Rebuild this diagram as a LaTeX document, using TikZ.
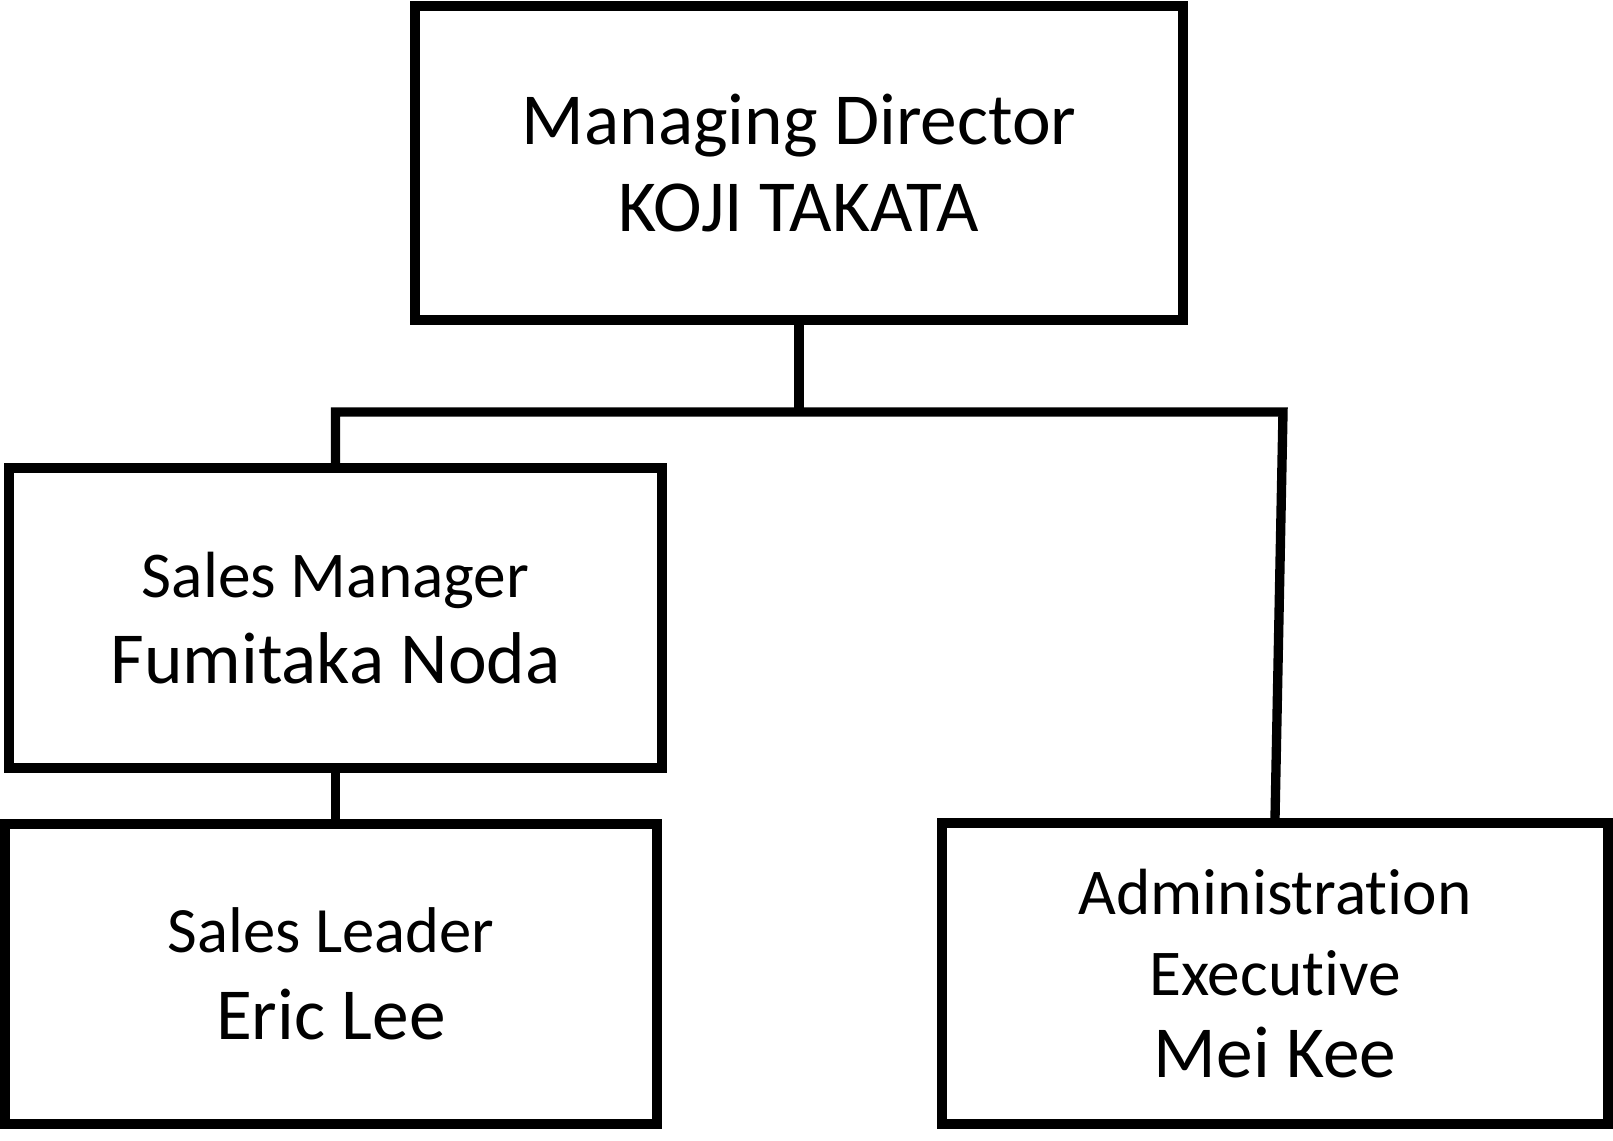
\documentclass[tikz,border=0pt]{standalone}
\usepackage{fontspec}
\setmainfont[Ligatures=NoCommon]{Carlito}
\tikzstyle{post} = [draw, line width=7pt, inner sep=0pt, align=center]
\tikzstyle{link} = [line width=7pt]
\newcommand{\postname}[1]{{\fontsize{55}{64}\selectfont #1}}

\begin{document}
\begin{tikzpicture}[x=0.75pt, y=-0.75pt]
\useasboundingbox (0,0) rectangle (1613,1140);

% Nodes
\node (md) [post, minimum width=576pt, minimum height=235.5pt,
  font=\fontsize{55}{65}\selectfont] at (799,163) {Managing Director\\KOJI TAKATA};
\node (sm) [post, minimum width=489.75pt, minimum height=225pt,
  font=\fontsize{49}{64}\selectfont] at (335.5,618) {Sales Manager\\\postname{Fumitaka Noda}};
\node (sl) [post, minimum width=489pt, minimum height=225pt,
  font=\fontsize{48.5}{65}\selectfont] at (331,974) {Sales Leader\\\postname{Eric Lee}};
\node (ae) [post, minimum width=499.5pt, minimum height=225.75pt,
  font=\fontsize{49}{61}\selectfont] at (1275,973.5) {Administration\\Executive\\\postname{Mei Kee}};
\coordinate (bus) at (799,412);
\coordinate (busR) at (1283,412);

% Lines
\draw [link] (md.south) -- (bus);
\draw [link] (sm.north) |- (busR) -- (ae.north);
\draw [link] (sm.south) -- (sm.south |- sl.north);

\end{tikzpicture}
\end{document}
